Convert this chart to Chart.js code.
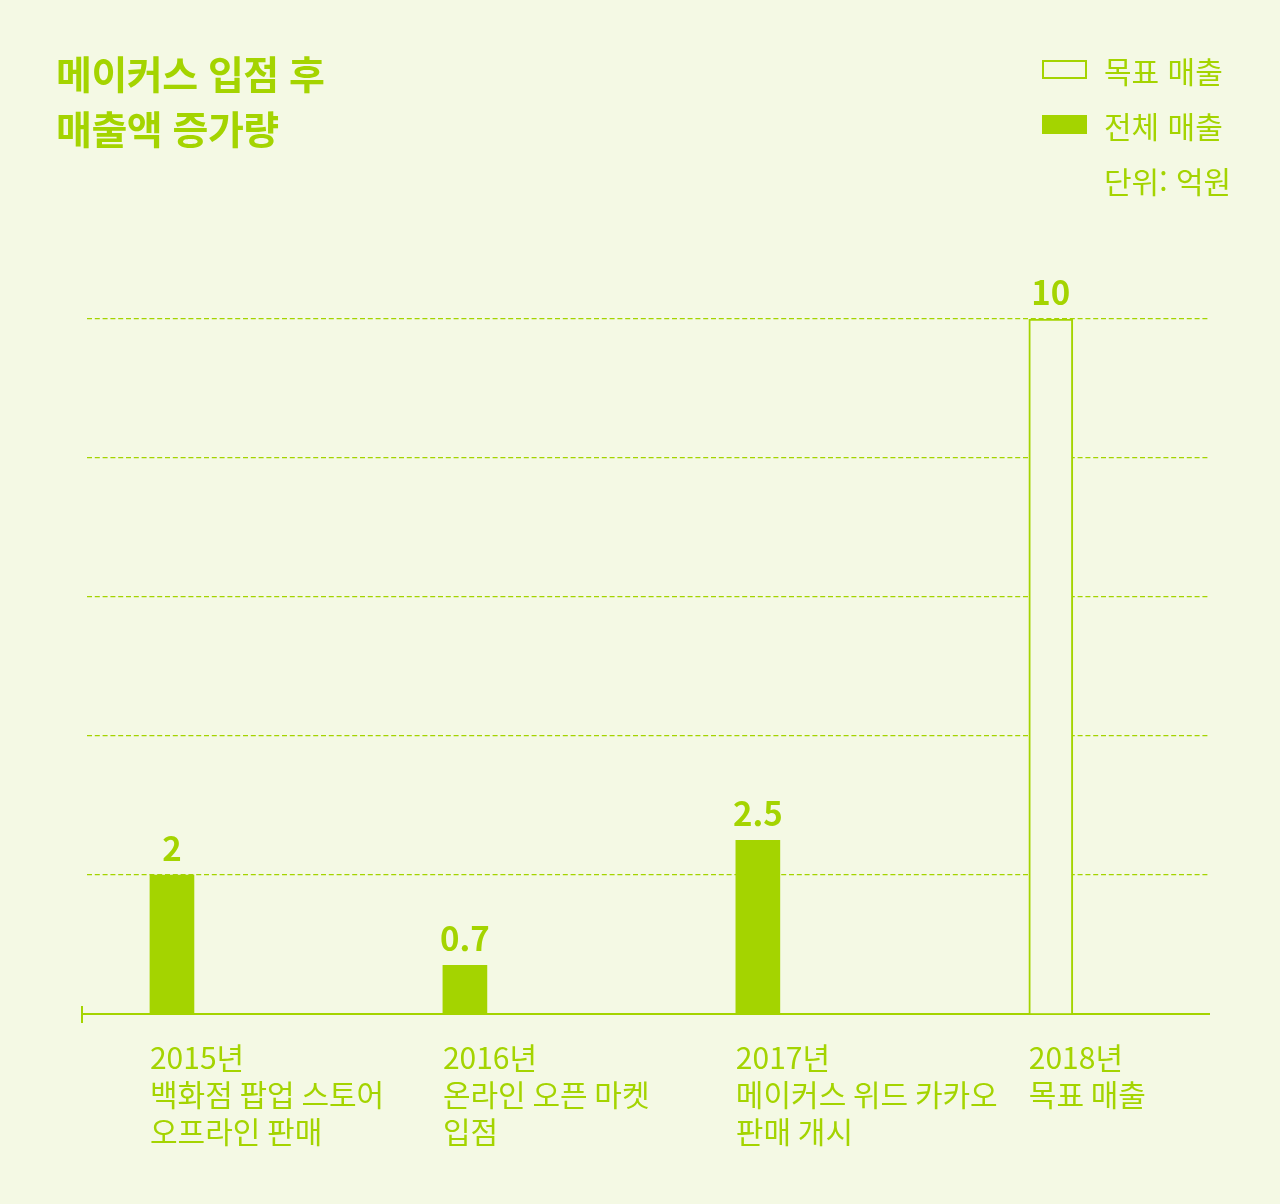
<!DOCTYPE html>
<html lang="ko">
<head>
<meta charset="utf-8">
<title>메이커스 입점 후 매출액 증가량</title>
<script src="https://cdn.jsdelivr.net/npm/chart.js@4.4.1/dist/chart.umd.min.js"></script>
<style>
    body { margin: 0; background: #f4f9e4; font-family: "Noto Sans CJK KR", sans-serif; color: #a4d400; }
    #wrap { position: relative; width: 1280px; height: 1204px; }
    #salesChart { position: absolute; left: 0; top: 0; }
    .title { position: absolute; left: 56px; top: 45px; margin: 0; font-size: 39px; font-weight: 700; line-height: 55px; letter-spacing: -0.5px; }
    .legend { position: absolute; left: 1042px; top: 42px; font-size: 30px; }
    .legend .row { display: flex; align-items: center; height: 55px; }
    .legend .box { width: 45px; height: 19px; box-sizing: border-box; margin-right: 17px; }
    .legend .outline { border: 2px solid #a4d400; }
    .legend .filled { background: #a4d400; }
</style>
</head>
<body>
<div id="wrap">
    <canvas id="salesChart" width="1280" height="1204"></canvas>
    <h1 class="title">메이커스 입점 후<br>매출액 증가량</h1>
    <div class="legend">
        <div class="row"><span class="box outline"></span>목표 매출</div>
        <div class="row"><span class="box filled"></span>전체 매출</div>
        <div class="row"><span class="box"></span>단위: 억원</div>
    </div>
</div>
<script>
const categories = [
    ['2015년', '백화점 팝업 스토어', '오프라인 판매'],
    ['2016년', '온라인 오픈 마켓', '입점'],
    ['2017년', '메이커스 위드 카카오', '판매 개시'],
    ['2018년', '목표 매출']
];
const totalSales = [2, 0.7, 2.5, null];   // 전체 매출 (억원)
const targetSales = [null, null, null, 10]; // 목표 매출 (억원)
const yTicks = [0, 2, 4, 6, 8, 10];

const GREEN = '#a4d400';
const BG = '#f4f9e4';
const FONT = '"Noto Sans CJK KR", sans-serif';

// value labels above each bar
const valueLabels = {
    id: 'valueLabels',
    afterDatasetsDraw(chart) {
        const ctx = chart.ctx;
        ctx.save();
        ctx.fillStyle = GREEN;
        ctx.font = 'bold 33px ' + FONT;
        ctx.textAlign = 'center';
        ctx.textBaseline = 'alphabetic';
        chart.data.datasets.forEach(function(ds, di) {
            chart.getDatasetMeta(di).data.forEach(function(bar, i) {
                const v = ds.data[i].y;
                if (v === null) return;
                ctx.fillText(String(v), bar.x, bar.y - 14);
            });
        });
        ctx.restore();
    }
};

// small end mark at the left of the baseline
const axisCap = {
    id: 'axisCap',
    afterDraw(chart) {
        const { ctx, chartArea } = chart;
        ctx.save();
        ctx.strokeStyle = GREEN;
        ctx.lineWidth = 2;
        ctx.beginPath();
        ctx.moveTo(chartArea.left - 5, chartArea.bottom - 8);
        ctx.lineTo(chartArea.left - 5, chartArea.bottom + 9);
        ctx.moveTo(chartArea.left - 5, chartArea.bottom);
        ctx.lineTo(chartArea.left, chartArea.bottom);
        ctx.stroke();
        ctx.restore();
    }
};

const ctx = document.getElementById('salesChart').getContext('2d');
new Chart(ctx, {
    type: 'bar',
    data: {
        datasets: [
            {
                label: '전체 매출',
                data: totalSales.map(function(v, i) { return { x: i, y: v }; }),
                backgroundColor: GREEN,
                borderWidth: 0
            },
            {
                label: '목표 매출',
                data: targetSales.map(function(v, i) { return { x: i, y: v }; }),
                backgroundColor: BG,
                borderColor: GREEN,
                borderWidth: 2,
                borderSkipped: 'bottom'
            }
        ]
    },
    options: {
        responsive: false,
        animation: false,
        grouped: false,
        barThickness: 44,
        layout: { padding: { top: 319, right: 71, left: 0, bottom: 0 } },
        plugins: {
            legend: { display: false },
            tooltip: { enabled: false }
        },
        scales: {
            x: {
                type: 'linear',
                offset: false,
                min: -0.29,
                max: 3.54,
                afterBuildTicks: function(scale) {
                    scale.ticks = categories.map(function(c, i) { return { value: i }; });
                },
                afterFit: function(scale) { scale.height = 190; },
                grid: { display: false, offset: false },
                border: { display: true, color: GREEN, width: 2 },
                ticks: {
                    autoSkip: false,
                    maxRotation: 0,
                    align: 'start',
                    labelOffset: -22,
                    padding: 17,
                    color: GREEN,
                    font: { family: FONT, size: 30, lineHeight: 1.233 },
                    callback: function(value) { return categories[value]; }
                }
            },
            y: {
                min: 0,
                max: 10,
                afterBuildTicks: function(scale) {
                    scale.ticks = yTicks.map(function(v) { return { value: v }; });
                },
                afterFit: function(scale) { scale.width = 87; },
                ticks: { display: false },
                border: { display: false, dash: [5, 2.8] },
                grid: {
                    drawTicks: false,
                    lineWidth: 1.3,
                    color: function(c) { return c.tick && c.tick.value === 0 ? 'rgba(0,0,0,0)' : GREEN; }
                }
            }
        }
    },
    plugins: [valueLabels, axisCap]
});
</script>
</body>
</html>
